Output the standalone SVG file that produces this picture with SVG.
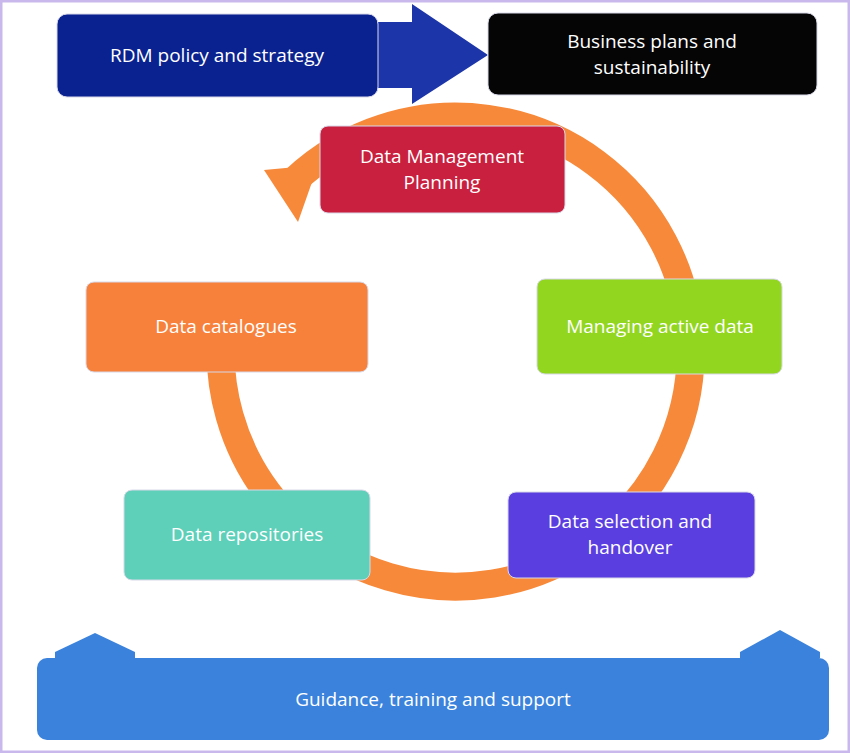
<svg xmlns="http://www.w3.org/2000/svg" width="850" height="753" viewBox="0 0 850 753">
<defs><style>
.t{font-family:"Open Sans","Liberation Sans",sans-serif;font-size:19px;fill:#fff;text-anchor:middle}
.b{stroke:#d8d8e8;stroke-width:1}
</style></defs>
<rect width="850" height="753" fill="#fff"/>
<rect x="1" y="1" width="848" height="751" fill="none" stroke="#c9b8ec" stroke-width="3"/>
<g id="connectors">
<path d="M 378 22 L 412 22 L 412 4 L 488 55 L 412 104 L 412 88 L 378 88 Z" fill="#1c35a8"/>
<path d="M 224 312 A 235 235 0 1 0 285 190" fill="none" stroke="#f7893a" stroke-width="28"/>
<path d="M 264 170 L 318 165 L 298 222 Z" fill="#f7893a"/>
<path d="M 55 658 L 55 652 L 95 633 L 135 652 L 135 658 Z" fill="#3a82dc"/>
<path d="M 740 658 L 740 652 L 780 630 L 820 652 L 820 658 Z" fill="#3a82dc"/>
</g>
<g id="rdm"><rect x="57" y="14" width="321" height="83" rx="10" fill="#0a2290" class="b"/><text class="t" x="217" y="62">RDM policy and strategy</text></g>
<g id="business"><rect x="488" y="13" width="329" height="82" rx="10" fill="#050505" class="b"/><text class="t" x="652" y="48">Business plans and</text><text class="t" x="652" y="74">sustainability</text></g>
<g id="dmp"><rect x="320" y="126" width="245" height="87" rx="8" fill="#c8203e" class="b"/><text class="t" x="442" y="163">Data Management</text><text class="t" x="442" y="189">Planning</text></g>
<g id="active"><rect x="537" y="279" width="245" height="95" rx="8" fill="#92d620" class="b"/><text class="t" x="660" y="333">Managing active data</text></g>
<g id="selection"><rect x="508" y="492" width="247" height="86" rx="8" fill="#5a3ee0" class="b"/><text class="t" x="630" y="528">Data selection and</text><text class="t" x="630" y="554">handover</text></g>
<g id="repositories"><rect x="124" y="490" width="246" height="90" rx="8" fill="#5ecfb8" class="b"/><text class="t" x="247" y="541">Data repositories</text></g>
<g id="catalogues"><rect x="86" y="282" width="282" height="90" rx="8" fill="#f7813a" class="b"/><text class="t" x="226" y="333">Data catalogues</text></g>
<g id="guidance"><rect x="37" y="658" width="792" height="82" rx="10" fill="#3a82dc"/><text class="t" x="433" y="706">Guidance, training and support</text></g>
</svg>
